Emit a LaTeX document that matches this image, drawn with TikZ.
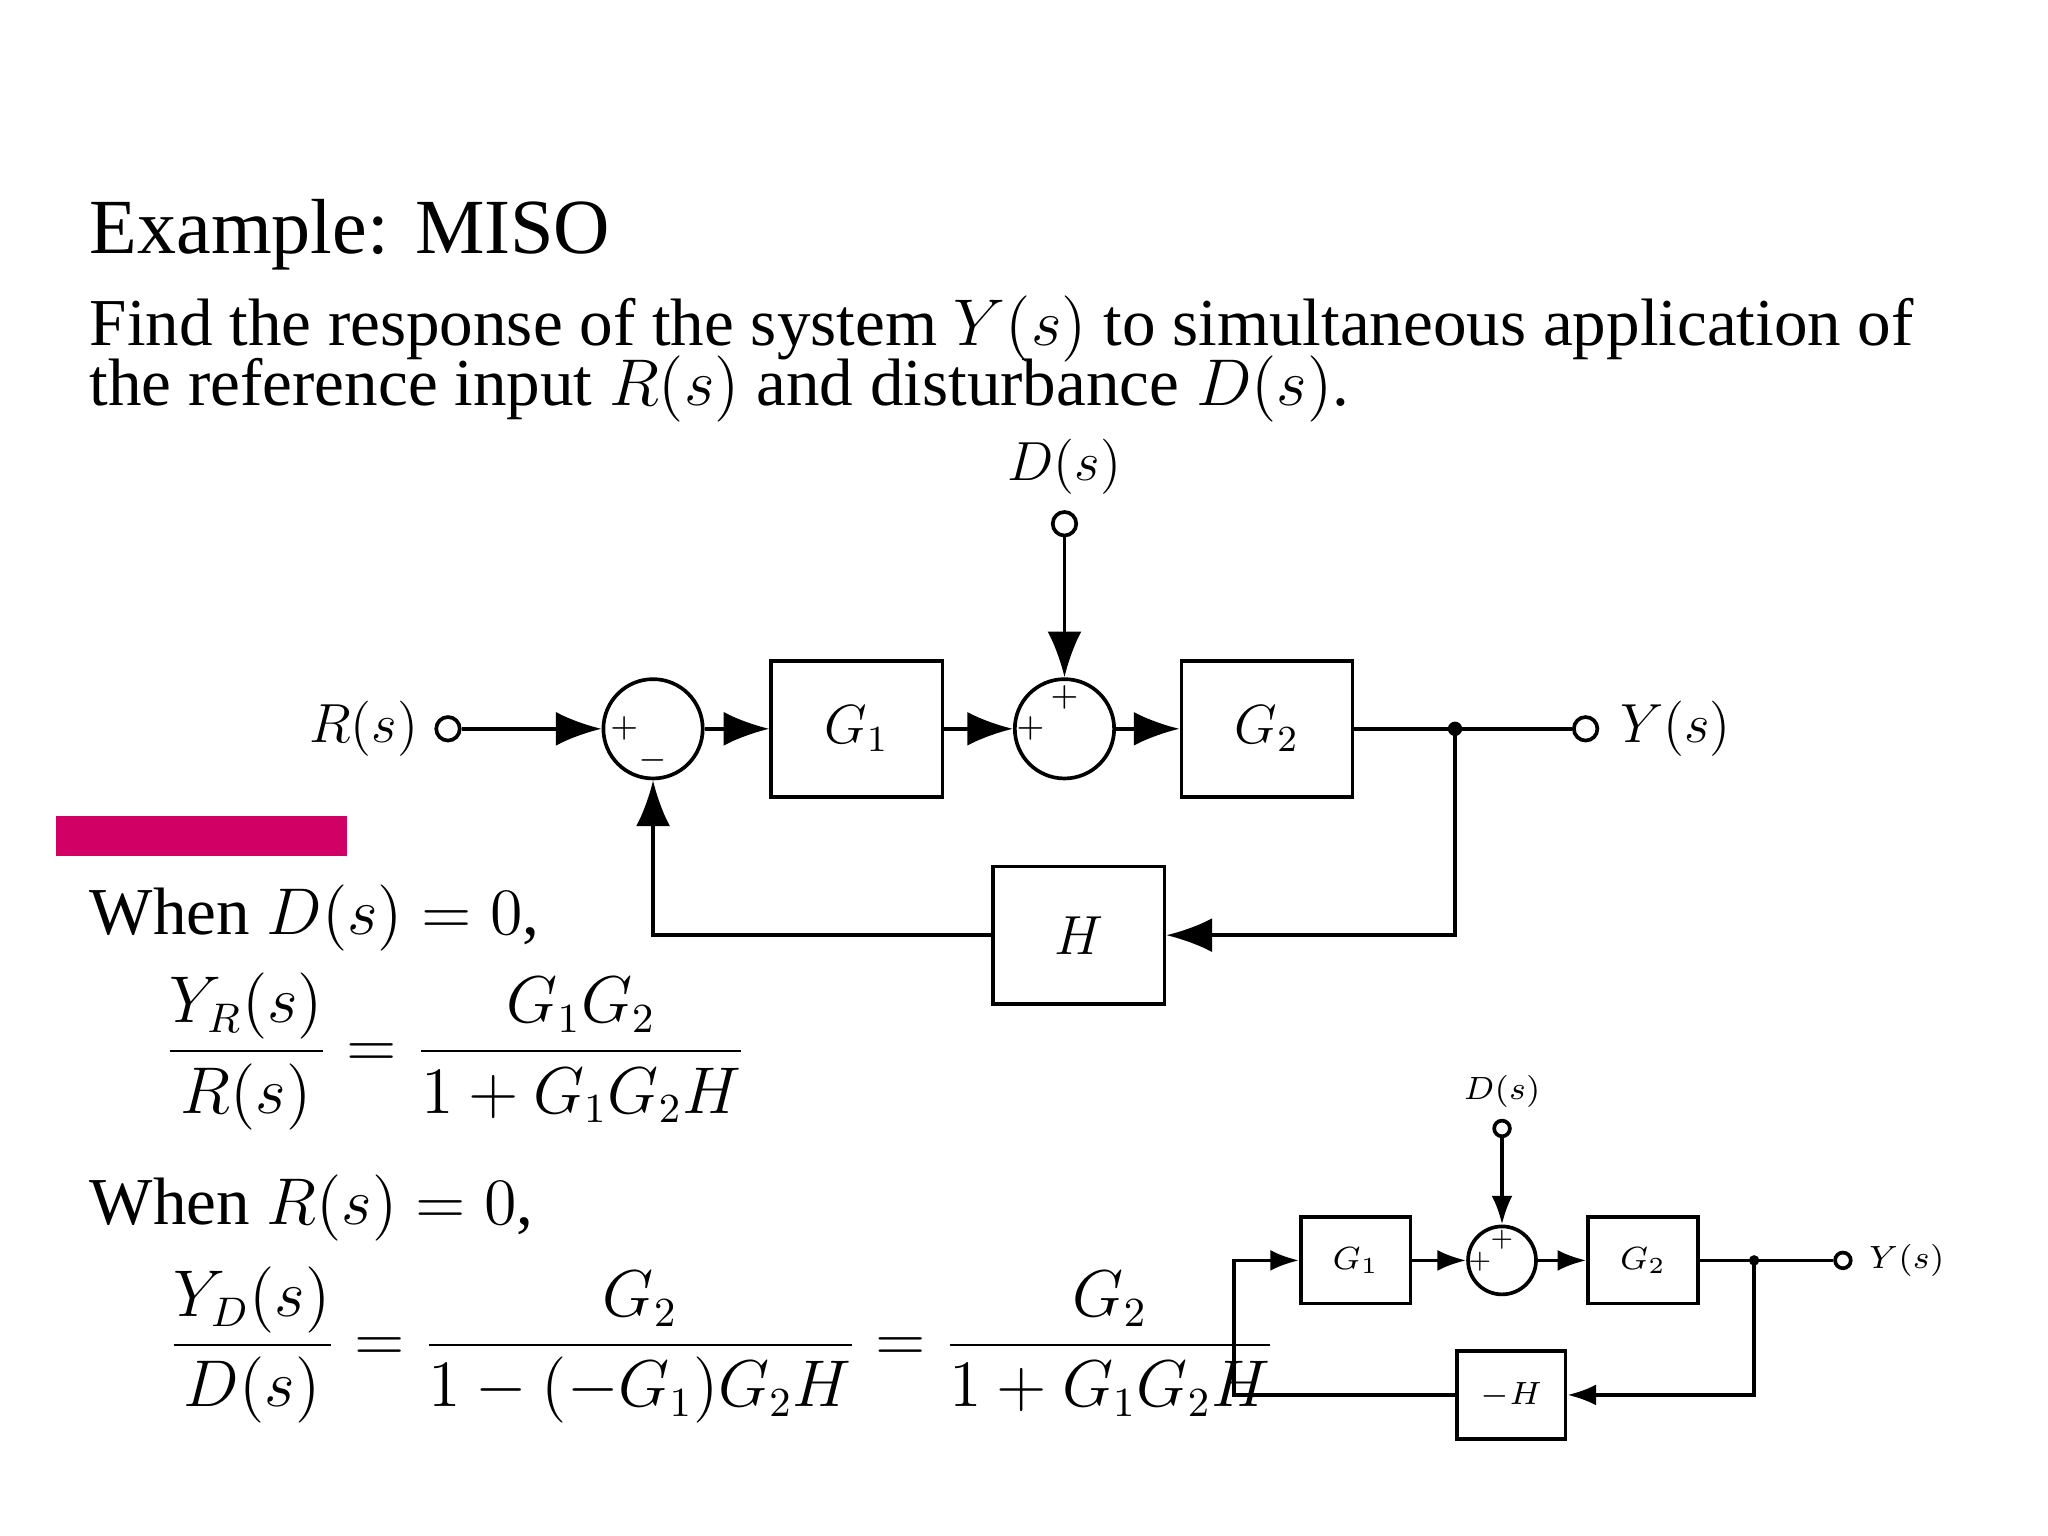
\documentclass[tikz,border=0pt]{standalone}
\usepackage{amsmath}
\usepackage{fontspec}
\setmainfont{Liberation Serif}
\usepackage{tikz}
\usetikzlibrary{positioning,calc,arrows.meta}
\definecolor{bar}{RGB}{208,0,100}
\newcommand{\blk}[4]{\node [draw, thick, minimum width=#3, minimum height=#4] (#1) at (#2)}
\newcommand{\pin}[2]{\node [draw, circle, thick, fill=white, inner sep=0pt, minimum size=#2] (#1)}

\begin{document}
\begin{tikzpicture}[x=0.01cm, y=-0.01cm,
  sig/.style={thick, -{Latex[length=3.5mm, width=2.6mm]}},
  ssig/.style={thick, -{Latex[length=2.2mm, width=1.6mm]}},
  line/.style={thick},
  txt/.style={anchor=west, inner sep=0pt, font=\fontsize{14.6}{17}\selectfont},
  eqn/.style={anchor=west, inner sep=0pt, font=\fontsize{13.3}{16}\selectfont}]
\useasboundingbox (0,0) rectangle (1568,1176);

% text
\node [txt, font=\fontsize{17}{20}\selectfont] (title) at (68,180) {Example: MISO};
\node [txt, align=left, anchor=north west] (task) at (68,226) {Find the response of the system $Y(s)$ to simultaneous application of\\[-4pt] the reference input $R(s)$ and disturbance $D(s)$.};
\fill [bar] (43,625) rectangle (266,655);
\node [txt] (w1) at (68,703) {When $D(s)=0$,};
\node [eqn] (e1) at (125,805) {$\dfrac{Y_R(s)}{R(s)}=\dfrac{G_1G_2}{1+G_1G_2H}$};
\node [txt] (w2) at (68,925) {When $R(s)=0$,};
\node [eqn] (e2) at (128,1030) {$\dfrac{Y_D(s)}{D(s)}=\dfrac{G_2}{1-(-G_1)G_2H}=\dfrac{G_2}{1+G_1G_2H}$};

% main diagram
\pin{R}{1.8mm} at (343,558) {};
\node [left=0pt of R, font=\fontsize{12}{14}\selectfont] (Rl) {$R(s)$};
\node [draw, circle, thick, minimum size=7.6mm] (S1) at (500,558) {};
\node [font=\scriptsize] at (478,558) {$+$};
\node [font=\scriptsize] at (500,582) {$-$};
\blk{G1}{656,558}{13.1mm}{10.4mm} {\large $G_1$};
\node [draw, circle, thick, minimum size=7.6mm] (S2) at (815,558) {};
\node [font=\scriptsize] at (789,558) {$+$};
\node [font=\scriptsize] at (815,534) {$+$};
\blk{G2}{970,558}{13.1mm}{10.4mm} {\large $G_2$};
\fill (1114,558) circle (0.55mm) coordinate (P);
\pin{Y}{1.8mm} at (1214,558) {};
\node [right=1pt of Y, font=\fontsize{12}{14}\selectfont] (Yl) {$Y(s)$};
\pin{D}{1.8mm} at (815,401) {};
\node [above=0pt of D, font=\fontsize{12}{14}\selectfont] (Dl) {$D(s)$};
\blk{H}{826,716}{13.1mm}{10.5mm} {\large $H$};

\draw [sig] (R) -- (S1);
\draw [sig] (S1) -- (G1);
\draw [sig] (G1) -- (S2);
\draw [sig] (D) -- (S2);
\draw [sig] (S2) -- (G2);
\draw [line] (G2) -- (P) -- (Y);
\draw [sig] (P) |- (H);
\draw [sig] (H) -| (S1);

% small diagram
\pin{d}{1.2mm} at (1150,864) {};
\node [above=-1pt of d, font=\scriptsize] (dl) {$D(s)$};
\node [draw, circle, thick, minimum size=5.2mm] (s) at (1150,965) {};
\node [font=\tiny] at (1133,966) {$+$};
\node [font=\tiny] at (1150,949) {$+$};
\blk{g1}{1038,965}{8.4mm}{6.6mm} {\scriptsize $G_1$};
\blk{g2}{1258,965}{8.4mm}{6.6mm} {\scriptsize $G_2$};
\fill (1343,965) circle (0.4mm) coordinate (p);
\pin{y}{1.2mm} at (1411,965) {};
\node [right=0pt of y, font=\scriptsize] (yl) {$Y(s)$};
\blk{h}{1157,1068}{8.3mm}{6.7mm} {\scriptsize $-H$};
\coordinate (c) at (945,1068);

\draw [ssig] (d) -- (s);
\draw [ssig] (g1) -- (s);
\draw [ssig] (s) -- (g2);
\draw [line] (g2) -- (p) -- (y);
\draw [ssig] (p) |- (h);
\draw [ssig] (h) -- (c) |- (g1);

\end{tikzpicture}
\end{document}
